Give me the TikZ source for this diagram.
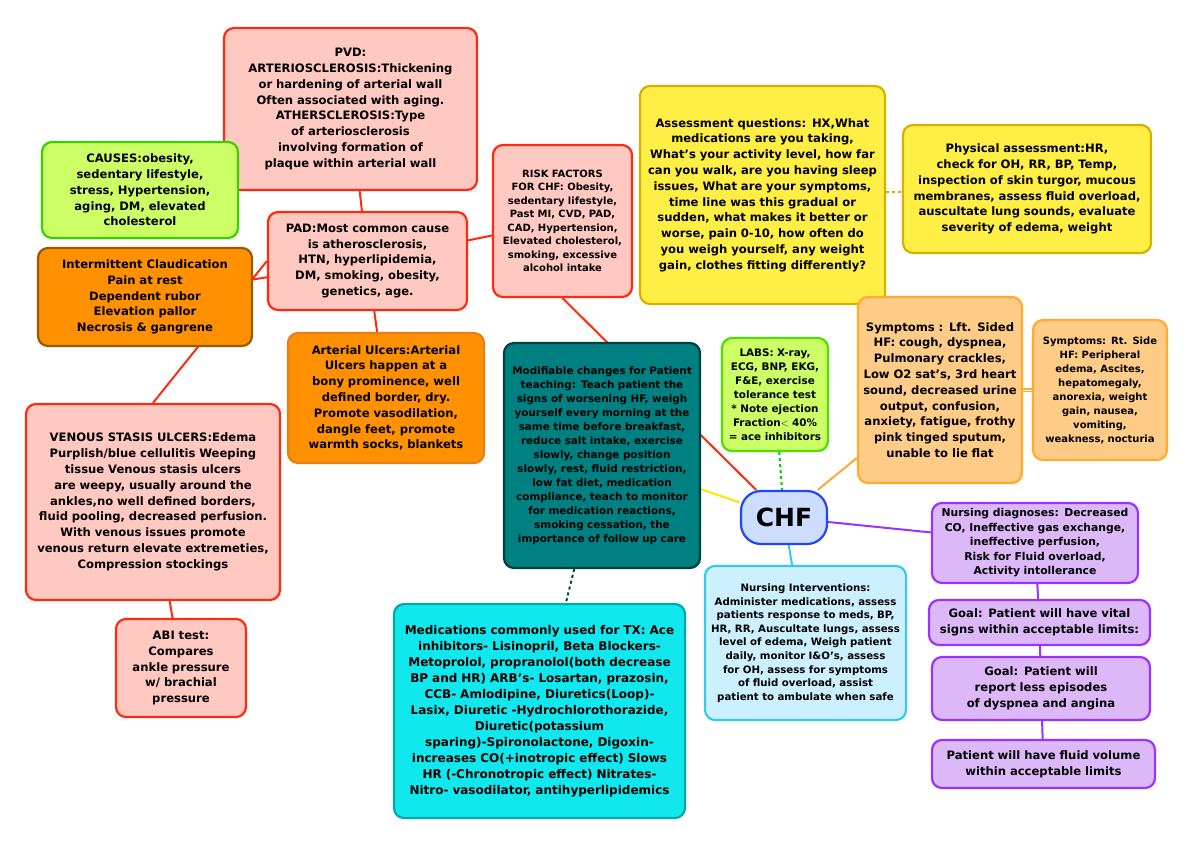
\documentclass[tikz,border=0pt]{standalone}
\usepackage{fontspec}
\setmainfont{DejaVu Sans}
\pgfdeclarelayer{bg}\pgfsetlayers{bg,main}
\begin{document}
\hyphenpenalty=10000 \exhyphenpenalty=10000
\begin{tikzpicture}[x=1pt,y=-1pt,
 bx/.style={draw,line width=2.2pt,rounded corners=10pt,align=center,inner sep=1pt,font=\bfseries\fontsize{11.6}{15.8}\selectfont},
 salm/.style={bx,fill=salmonc,draw=redc},
 org/.style={bx,fill=orgc,draw=brownc},
 yel/.style={bx,fill=yelc,draw=yelb},
 lor/.style={bx,fill=lorc,draw=lorb},
 pur/.style={bx,fill=purc,draw=purb},
 ln/.style={line width=2pt}]
\definecolor{salmonc}{HTML}{FFC8C0}\definecolor{redc}{HTML}{FF2A10}
\definecolor{brownc}{HTML}{9A5A00}\definecolor{yelc}{HTML}{FFEE44}
\definecolor{yelb}{HTML}{D4B000}\definecolor{lorc}{HTML}{FFCC88}
\definecolor{lorb}{HTML}{FFAA30}\definecolor{purc}{HTML}{DDB8F8}
\definecolor{purb}{HTML}{9933FF}\definecolor{lgreen}{HTML}{CCFF66}
\definecolor{orgc}{HTML}{FF9000}\definecolor{tealc}{HTML}{008080}
\definecolor{cyanc}{HTML}{11E8EE}\definecolor{cyanb}{HTML}{00AAAA}
\definecolor{lcyan}{HTML}{CCF0FF}\definecolor{lcyanb}{HTML}{33CCEE}
\definecolor{chfc}{HTML}{CCDDFF}\definecolor{chfb}{HTML}{2244FF}
\useasboundingbox (0,0) rectangle (1200,847);
\newcommand\bxat[6]{\node[#1,minimum width=#4-#2,minimum height=#5-#3,text width=#4-#2-#6] at ({(#2+#4)/2},{(#3+#5)/2})}
\bxat{salm}{224}{28}{477}{190}{24} (pvd) {PVD:\\ARTERIOSCLEROSIS:Thickening or hardening of arterial wall Often associated with aging.\\ATHERSCLEROSIS:Type of arteriosclerosis involving formation of plaque within arterial wall};
\bxat{bx,fill=lgreen,draw=green!75!black!70!lime}{42}{142}{238}{238}{24} (cau) {CAUSES:obesity, sedentary lifestyle, stress, Hypertension, aging, DM, elevated cholesterol};
\bxat{salm}{268}{212}{467}{310}{20} (pad) {PAD:Most common cause is atherosclerosis, HTN, hyperlipidemia, DM, smoking, obesity, genetics, age.};
\bxat{salm,font=\bfseries\fontsize{10}{13.5}\selectfont}{493}{145}{632}{297}{14} (risk) {RISK FACTORS FOR CHF: Obesity, sedentary lifestyle, Past MI, CVD, PAD, CAD, Hypertension, Elevated cholesterol, smoking, excessive alcohol intake};
\bxat{org}{38}{248}{252}{346}{10} (int) {Intermittent Claudication\\Pain at rest\\Dependent rubor\\Elevation pallor\\Necrosis \& gangrene};
\bxat{org,draw=orange!60!brown}{288}{333}{484}{463}{10} (art) {Arterial Ulcers:Arterial Ulcers happen at a bony prominence, well defined border, dry. Promote vasodilation, dangle feet, promote warmth socks, blankets};
\bxat{salm}{26}{404}{280}{600}{20} (ven) {VENOUS STASIS ULCERS:Edema Purplish/blue cellulitis Weeping tissue Venous stasis ulcers are weepy, usually around the ankles,no well defined borders, fluid pooling, decreased perfusion. With venous issues promote venous return elevate extremeties, Compression stockings};
\bxat{salm}{116}{619}{246}{717}{24} (abi) {ABI test:\\Compares ankle pressure w/ brachial pressure};
\bxat{yel}{640}{86}{885}{304}{14} (ass) {Assessment questions: HX,What medications are you taking, What's your activity level, how far can you walk, are you having sleep issues, What are your symptoms, time line was this gradual or sudden, what makes it better or worse, pain 0-10, how often do you weigh yourself, any weight gain, clothes fitting differently?};
\bxat{yel}{903}{125}{1151}{253}{12} (phy) {Physical assessment:HR, check for OH, RR, BP, Temp, inspection of skin turgor, mucous membranes, assess fluid overload, auscultate lung sounds, evaluate severity of edema, weight};
\bxat{bx,fill=lgreen,draw=green!80!black!60!lime,font=\bfseries\fontsize{10.4}{14}\selectfont}{722}{338}{828}{451}{6} (labs) {LABS: X-ray, ECG, BNP, EKG, F\&E, exercise tolerance test * Note ejection Fraction$<$ 40\% = ace inhibitors};
\bxat{lor}{858}{297}{1022}{483}{10} (sl) {Symptoms : Lft. Sided HF: cough, dyspnea, Pulmonary crackles, Low O2 sat's, 3rd heart sound, decreased urine output, confusion, anxiety, fatigue, frothy pink tinged sputum, unable to lie flat};
\bxat{lor,font=\bfseries\fontsize{10}{14}\selectfont}{1033}{320}{1167}{460}{8} (sr) {Symptoms: Rt. Side HF: Peripheral edema, Ascites, hepatomegaly, anorexia, weight gain, nausea, vomiting, weakness, nocturia};
\bxat{bx,fill=tealc,draw=teal!50!black,font=\fontsize{10.4}{14}\selectfont\bfseries,text=black}{504}{343}{700}{568}{8} (mod) {Modifiable changes for Patient teaching: Teach patient the signs of worsening HF, weigh yourself every morning at the same time before breakfast, reduce salt intake, exercise slowly, change position slowly, rest, fluid restriction, low fat diet, medication compliance, teach to monitor for medication reactions, smoking cessation, the importance of follow up care};
\bxat{bx,fill=chfc,draw=chfb,rounded corners=20pt,font=\bfseries\fontsize{25}{28}\selectfont}{742}{491}{826}{544}{0} (chf) {CHF};
\bxat{pur,font=\bfseries\fontsize{10.8}{14.5}\selectfont}{932}{503}{1138}{583}{6} (nd) {Nursing diagnoses: Decreased CO, Ineffective gas exchange, ineffective perfusion, Risk for Fluid overload, Activity intollerance};
\bxat{pur}{929}{600}{1150}{645}{14} (g1) {Goal: Patient will have vital signs within acceptable limits:};
\bxat{pur}{932}{657}{1150}{720}{14} (g2) {Goal: Patient will report less episodes of dyspnea and angina};
\bxat{pur}{932}{740}{1155}{788}{14} (g3) {Patient will have fluid volume within acceptable limits};
\bxat{bx,fill=lcyan,draw=lcyanb,font=\bfseries\fontsize{10.2}{13.6}\selectfont}{705}{566}{906}{720}{8} (ni) {Nursing Interventions: Administer medications, assess patients response to meds, BP, HR, RR, Auscultate lungs, assess level of edema, Weigh patient daily, monitor I\&O's, assess for OH, assess for symptoms of fluid overload, assist patient to ambulate when safe};
\bxat{bx,fill=cyanc,draw=cyanb,font=\bfseries\fontsize{12}{16}\selectfont}{394}{604}{685}{818}{14} (med) {Medications commonly used for TX: Ace inhibitors- Lisinopril, Beta Blockers- Metoprolol, propranolol(both decrease BP and HR) ARB's- Losartan, prazosin, CCB- Amlodipine, Diuretics(Loop)- Lasix, Diuretic -Hydrochlorothorazide, Diuretic(potassium sparing)-Spironolactone, Digoxin- increases CO(+inotropic effect) Slows HR (-Chronotropic effect) Nitrates- Nitro- vasodilator, antihyperlipidemics};
\begin{pgfonlayer}{bg}
\draw[ln,redc] (cau) -- (pvd);
\draw[ln,redc] (pvd) -- (pad);
\draw[ln,redc] (pad) -- (risk);
\draw[ln,redc] (int) -- (pad);
\draw[ln,redc] (pad) -- (art);
\draw[ln,redc] (pad.west) -- (ven.north);
\draw[ln,redc] (ven) -- (abi);
\draw[ln,redc] (risk.south) -- (chf);
\draw[ln,yellow!90!orange] (mod) -- (chf);
\draw[ln,teal!60!black,dashed] (mod) -- (med);
\draw[ln,yelb,dashed] (ass) -- (phy);
\draw[ln,green!80!black,dashed] (labs) -- (chf);
\draw[ln,lorb] (sl) -- (chf);
\draw[ln,lorb,double] (sl) -- (sr);
\draw[ln,purb] (chf) -- (nd);
\draw[ln,purb] (nd) -- (g1);
\draw[ln,purb] (g1) -- (g2);
\draw[ln,purb] (g2) -- (g3);
\draw[ln,lcyanb] (chf) -- (ni);
\end{pgfonlayer}
\end{tikzpicture}
\end{document}
